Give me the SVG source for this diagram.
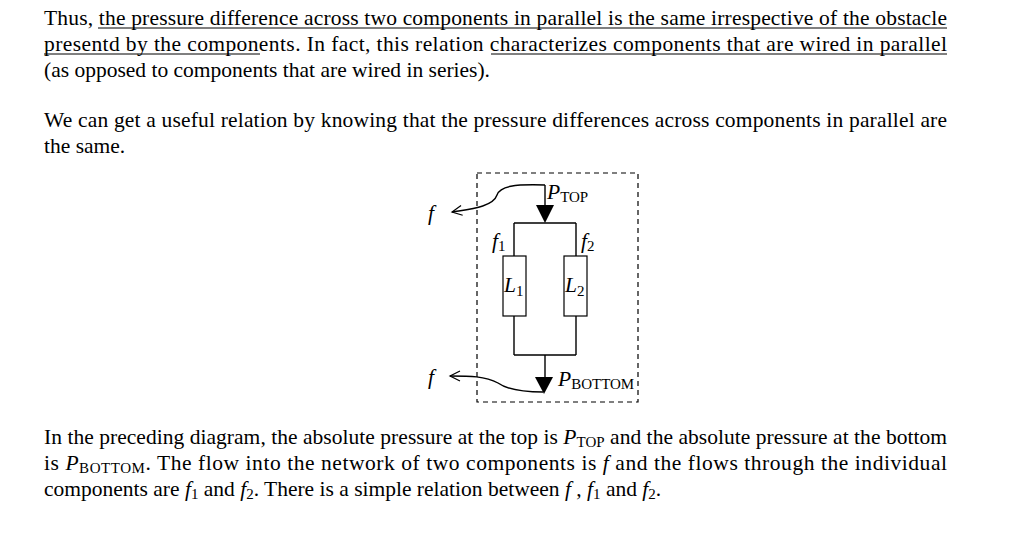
<svg xmlns="http://www.w3.org/2000/svg" width="1024" height="536" viewBox="0 0 1024 536">
<style>
text{font-family:"Liberation Serif","Times New Roman",serif;font-size:21.5px;fill:#000}
.i{font-style:italic}
.s{font-size:15px}
.ln{stroke:#000;stroke-width:1.4;fill:none}
</style>
<defs>
<marker id="open" markerWidth="14" markerHeight="14" refX="11" refY="6" orient="auto" markerUnits="userSpaceOnUse"><path d="M1,1 L11,6 L1,11" fill="none" stroke="#000" stroke-width="1.2"/></marker>
</defs>
<rect width="1024" height="536" fill="#fff"/>
<text x="44" y="25" textLength="903" lengthAdjust="spacing">Thus, the pressure difference across two components in parallel is the same irrespective of the obstacle</text>
<line x1="98" y1="28" x2="947" y2="28" stroke="#000"/>
<text x="44" y="51" textLength="903" lengthAdjust="spacing">presentd by the components. In fact, this relation characterizes components that are wired in parallel</text>
<line x1="44" y1="54" x2="260" y2="54" stroke="#000"/>
<line x1="491" y1="54" x2="947" y2="54" stroke="#000"/>
<text x="44" y="77">(as opposed to components that are wired in series).</text>
<text x="44" y="127" textLength="903" lengthAdjust="spacing">We can get a useful relation by knowing that the pressure differences across components in parallel are</text>
<text x="44" y="153">the same.</text>

<g id="boundary"><rect x="477" y="173" width="161" height="229" fill="none" stroke="#000" stroke-width="1.2" stroke-dasharray="5,4"/></g>
<g id="connectors">
<path class="ln" d="M545,185 V210"/>
<polygon points="536,205 554,205 545,223"/>
<path class="ln" d="M514,223 H576 M514,223 V256 M576,223 V256 M514,316 V355 M576,316 V355 M514,355 H576 M545,355 V380"/>
<polygon points="535,377 553,377 544,394"/>
<path class="ln" d="M545,185 C515,184 500,186 497,195 C493,207 470,209 452,212" marker-end="url(#open)"/>
<path class="ln" d="M543,392 C520,392 505,388 498,383 C485,376 470,376 450,376" marker-end="url(#open)"/>
</g>
<g id="L1"><rect x="503" y="256" width="23" height="60" fill="#fff" stroke="#000" stroke-width="1.2"/><text x="504" y="292" class="i">L<tspan class="s" font-style="normal" dy="4">1</tspan></text></g>
<g id="L2"><rect x="564" y="256" width="23" height="60" fill="#fff" stroke="#000" stroke-width="1.2"/><text x="565" y="292" class="i">L<tspan class="s" font-style="normal" dy="4">2</tspan></text></g>
<g id="labels">
<text x="428" y="220" class="i">f</text>
<text x="428" y="384" class="i">f</text>
<text x="492" y="248" class="i">f<tspan class="s" font-style="normal" dy="3">1</tspan></text>
<text x="581" y="248" class="i">f<tspan class="s" font-style="normal" dy="3">2</tspan></text>
<text x="547" y="199" class="i">P<tspan class="s" font-style="normal" dy="3">TOP</tspan></text>
<text x="558" y="386" class="i">P<tspan class="s" font-style="normal" dy="3">BOTTOM</tspan></text>
</g>

<text x="44" y="444" textLength="903" lengthAdjust="spacing">In the preceding diagram, the absolute pressure at the top is <tspan class="i">P</tspan><tspan class="s" dy="3">TOP</tspan><tspan dy="-3"> and the absolute pressure at the bottom</tspan></text>
<text x="44" y="470" textLength="903" lengthAdjust="spacing">is <tspan class="i">P</tspan><tspan class="s" dy="3">BOTTOM</tspan><tspan dy="-3">. The flow into the network of two components is </tspan><tspan class="i">f</tspan> and the flows through the individual</text>
<text x="44" y="496">components are <tspan class="i">f</tspan><tspan class="s" dy="3">1</tspan><tspan dy="-3"> and </tspan><tspan class="i">f</tspan><tspan class="s" dy="3">2</tspan><tspan dy="-3">. There is a simple relation between </tspan><tspan class="i">f</tspan> , <tspan class="i">f</tspan><tspan class="s" dy="3">1</tspan><tspan dy="-3"> and </tspan><tspan class="i">f</tspan><tspan class="s" dy="3">2</tspan><tspan dy="-3">.</tspan></text>
</svg>
